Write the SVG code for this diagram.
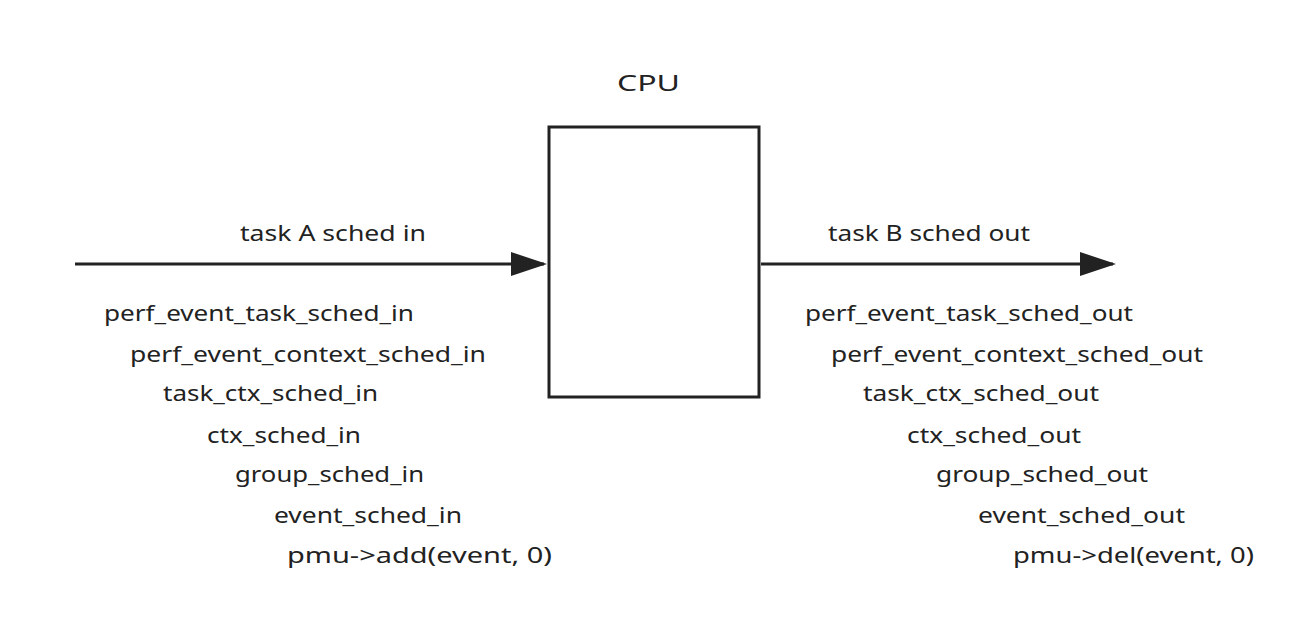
<svg xmlns="http://www.w3.org/2000/svg" width="1310" height="642" viewBox="0 0 1310 642">
<style>
text{font-family:"Noto Sans","Open Sans",sans-serif;font-size:21px;fill:#222}
.l{stroke:#222;stroke-width:3;fill:none}
</style>
<defs><marker id="a" markerWidth="12" markerHeight="8" refX="11" refY="4" orient="auto" markerUnits="strokeWidth"><path d="M0,0L12,4L0,8z" fill="#222"/></marker></defs>
<rect width="1310" height="642" fill="#fff"/>
<g id="cpu"><rect x="549" y="127" width="210" height="270" class="l"/><text x="617" y="91" textLength="63" lengthAdjust="spacingAndGlyphs">CPU</text></g>
<g id="connectors">
<path d="M75,264H544" class="l" marker-end="url(#a)"/>
<path d="M761,264H1113" class="l" marker-end="url(#a)"/>
</g>
<g id="labels-left">
<text x="240" y="241" textLength="186" lengthAdjust="spacingAndGlyphs">task A sched in</text>
<text x="104" y="321" textLength="310" lengthAdjust="spacingAndGlyphs">perf_event_task_sched_in</text>
<text x="130" y="362" textLength="356" lengthAdjust="spacingAndGlyphs">perf_event_context_sched_in</text>
<text x="163" y="401" textLength="215" lengthAdjust="spacingAndGlyphs">task_ctx_sched_in</text>
<text x="207" y="443" textLength="154" lengthAdjust="spacingAndGlyphs">ctx_sched_in</text>
<text x="235" y="482" textLength="189" lengthAdjust="spacingAndGlyphs">group_sched_in</text>
<text x="274" y="523" textLength="188" lengthAdjust="spacingAndGlyphs">event_sched_in</text>
<text x="287" y="563" textLength="265" lengthAdjust="spacingAndGlyphs">pmu-&gt;add(event, 0)</text>
</g>
<g id="labels-right">
<text x="828" y="241" textLength="202" lengthAdjust="spacingAndGlyphs">task B sched out</text>
<text x="805" y="321" textLength="328" lengthAdjust="spacingAndGlyphs">perf_event_task_sched_out</text>
<text x="831" y="362" textLength="372" lengthAdjust="spacingAndGlyphs">perf_event_context_sched_out</text>
<text x="863" y="401" textLength="236" lengthAdjust="spacingAndGlyphs">task_ctx_sched_out</text>
<text x="907" y="443" textLength="174" lengthAdjust="spacingAndGlyphs">ctx_sched_out</text>
<text x="936" y="482" textLength="212" lengthAdjust="spacingAndGlyphs">group_sched_out</text>
<text x="978" y="523" textLength="207" lengthAdjust="spacingAndGlyphs">event_sched_out</text>
<text x="1013" y="563" textLength="241" lengthAdjust="spacingAndGlyphs">pmu-&gt;del(event, 0)</text>
</g>
</svg>
